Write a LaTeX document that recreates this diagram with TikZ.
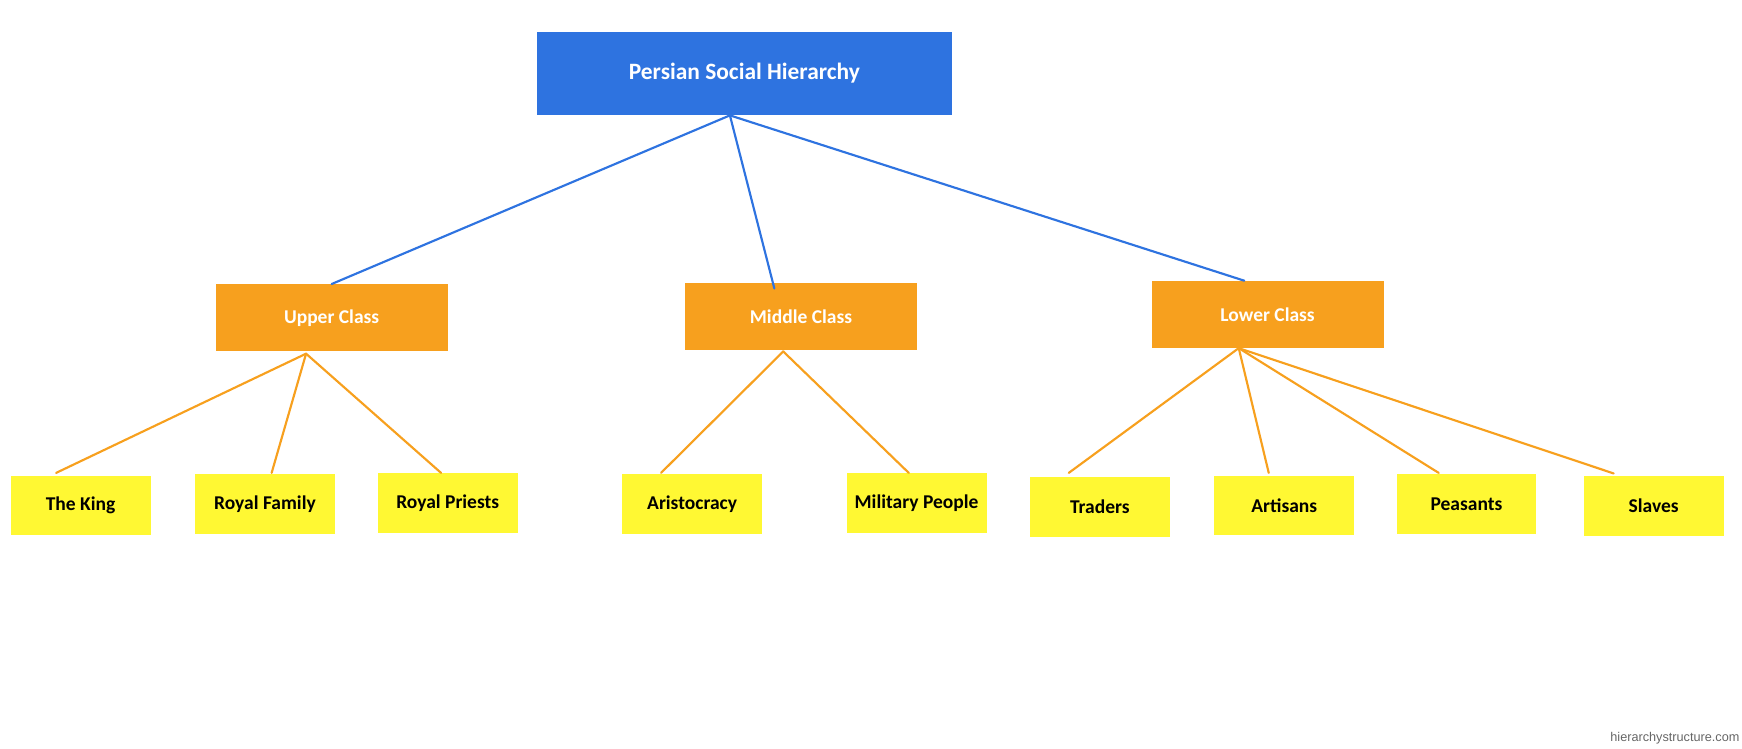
\documentclass[tikz,border=0pt]{standalone}
\usepackage{fontspec}
\setmainfont{Carlito}
\newfontfamily\markfont{Liberation Sans}
\usetikzlibrary{calc}

\definecolor{titleblue}{HTML}{2E73E0}
\definecolor{classorange}{HTML}{F7A01E}
\definecolor{groupyellow}{HTML}{FFF833}

\begin{document}
\begin{tikzpicture}[x=0.02cm, y=-0.02cm, line cap = round, line join = round]
\tikzstyle{titlebox}=[fill=titleblue, text=white, font=\bfseries\fontsize{12}{14}\selectfont, minimum width=7.48cm, minimum height=1.5cm, inner sep=0pt]
\tikzstyle{classbox}=[fill=classorange, text=white, font=\bfseries\fontsize{10}{12}\selectfont, minimum width=4.18cm, minimum height=1.2cm, inner sep=0pt]
\tikzstyle{groupbox}=[fill=groupyellow, text=black, font=\bfseries\fontsize{10}{12}\selectfont, minimum width=2.52cm, minimum height=1.08cm, inner sep=0pt]
\tikzstyle{blueline}=[titleblue, line width=1.1pt]
\tikzstyle{orangeline}=[classorange, line width=1.1pt]
\useasboundingbox (0,0) rectangle (1568,674);

\node[titlebox] (title) at (670,66) {Persian Social Hierarchy};
\node[classbox] (upper) at (298.5,286) {Upper Class};
\node[classbox] (middle) at (721,285) {Middle Class};
\node[classbox] (lower) at (1141,283) {Lower Class};

\node[groupbox] (king) at (72.5,455) {The King};
\node[groupbox] (family) at (238.5,454) {Royal Family};
\node[groupbox] (priests) at (403,453) {Royal Priests};
\node[groupbox] (aristocracy) at (623,454) {Aristocracy};
\node[groupbox] (military) at (825,453) {Military People};
\node[groupbox] (traders) at (990,456) {Traders};
\node[groupbox] (artisans) at (1156,455) {Artisans};
\node[groupbox] (peasants) at (1320,454) {Peasants};
\node[groupbox] (slaves) at (1488.5,455.5) {Slaves};

\coordinate (hub) at ($(title.south)+(-13,0)$);
\coordinate (upperhub) at ($(upper.south)+(-23,2)$);
\coordinate (middlehub) at ($(middle.south)+(-16,1)$);
\coordinate (lowerhub) at ($(lower.south)+(-26,0)$);

\draw[blueline] (hub) -- (upper.north);
\draw[blueline] (hub) -- ($(middle.north)+(-24,5)$);
\draw[blueline] (hub) -- ($(lower.north)+(-21,0)$);

\draw[orangeline] (upperhub) -- ($(king.north)+(-22,-2)$);
\draw[orangeline] (upperhub) -- ($(family.north)+(6,-1)$);
\draw[orangeline] (upperhub) -- ($(priests.north)+(-6,0)$);
\draw[orangeline] (middlehub) -- ($(aristocracy.north)+(-28,-1)$);
\draw[orangeline] (middlehub) -- ($(military.north)+(-7,0)$);
\draw[orangeline] (lowerhub) -- ($(traders.north)+(-28,-3)$);
\draw[orangeline] (lowerhub) -- ($(artisans.north)+(-14,-2)$);
\draw[orangeline] (lowerhub) -- ($(peasants.north)+(-25,-1)$);
\draw[orangeline] (lowerhub) -- ($(slaves.north)+(-36,-2)$);

\node[anchor=south east, inner sep=0pt, text=gray!80!black, font=\markfont\fontsize{6.5}{8}\selectfont] (mark) at (1566,670) {hierarchystructure.com};
\end{tikzpicture}
\end{document}
